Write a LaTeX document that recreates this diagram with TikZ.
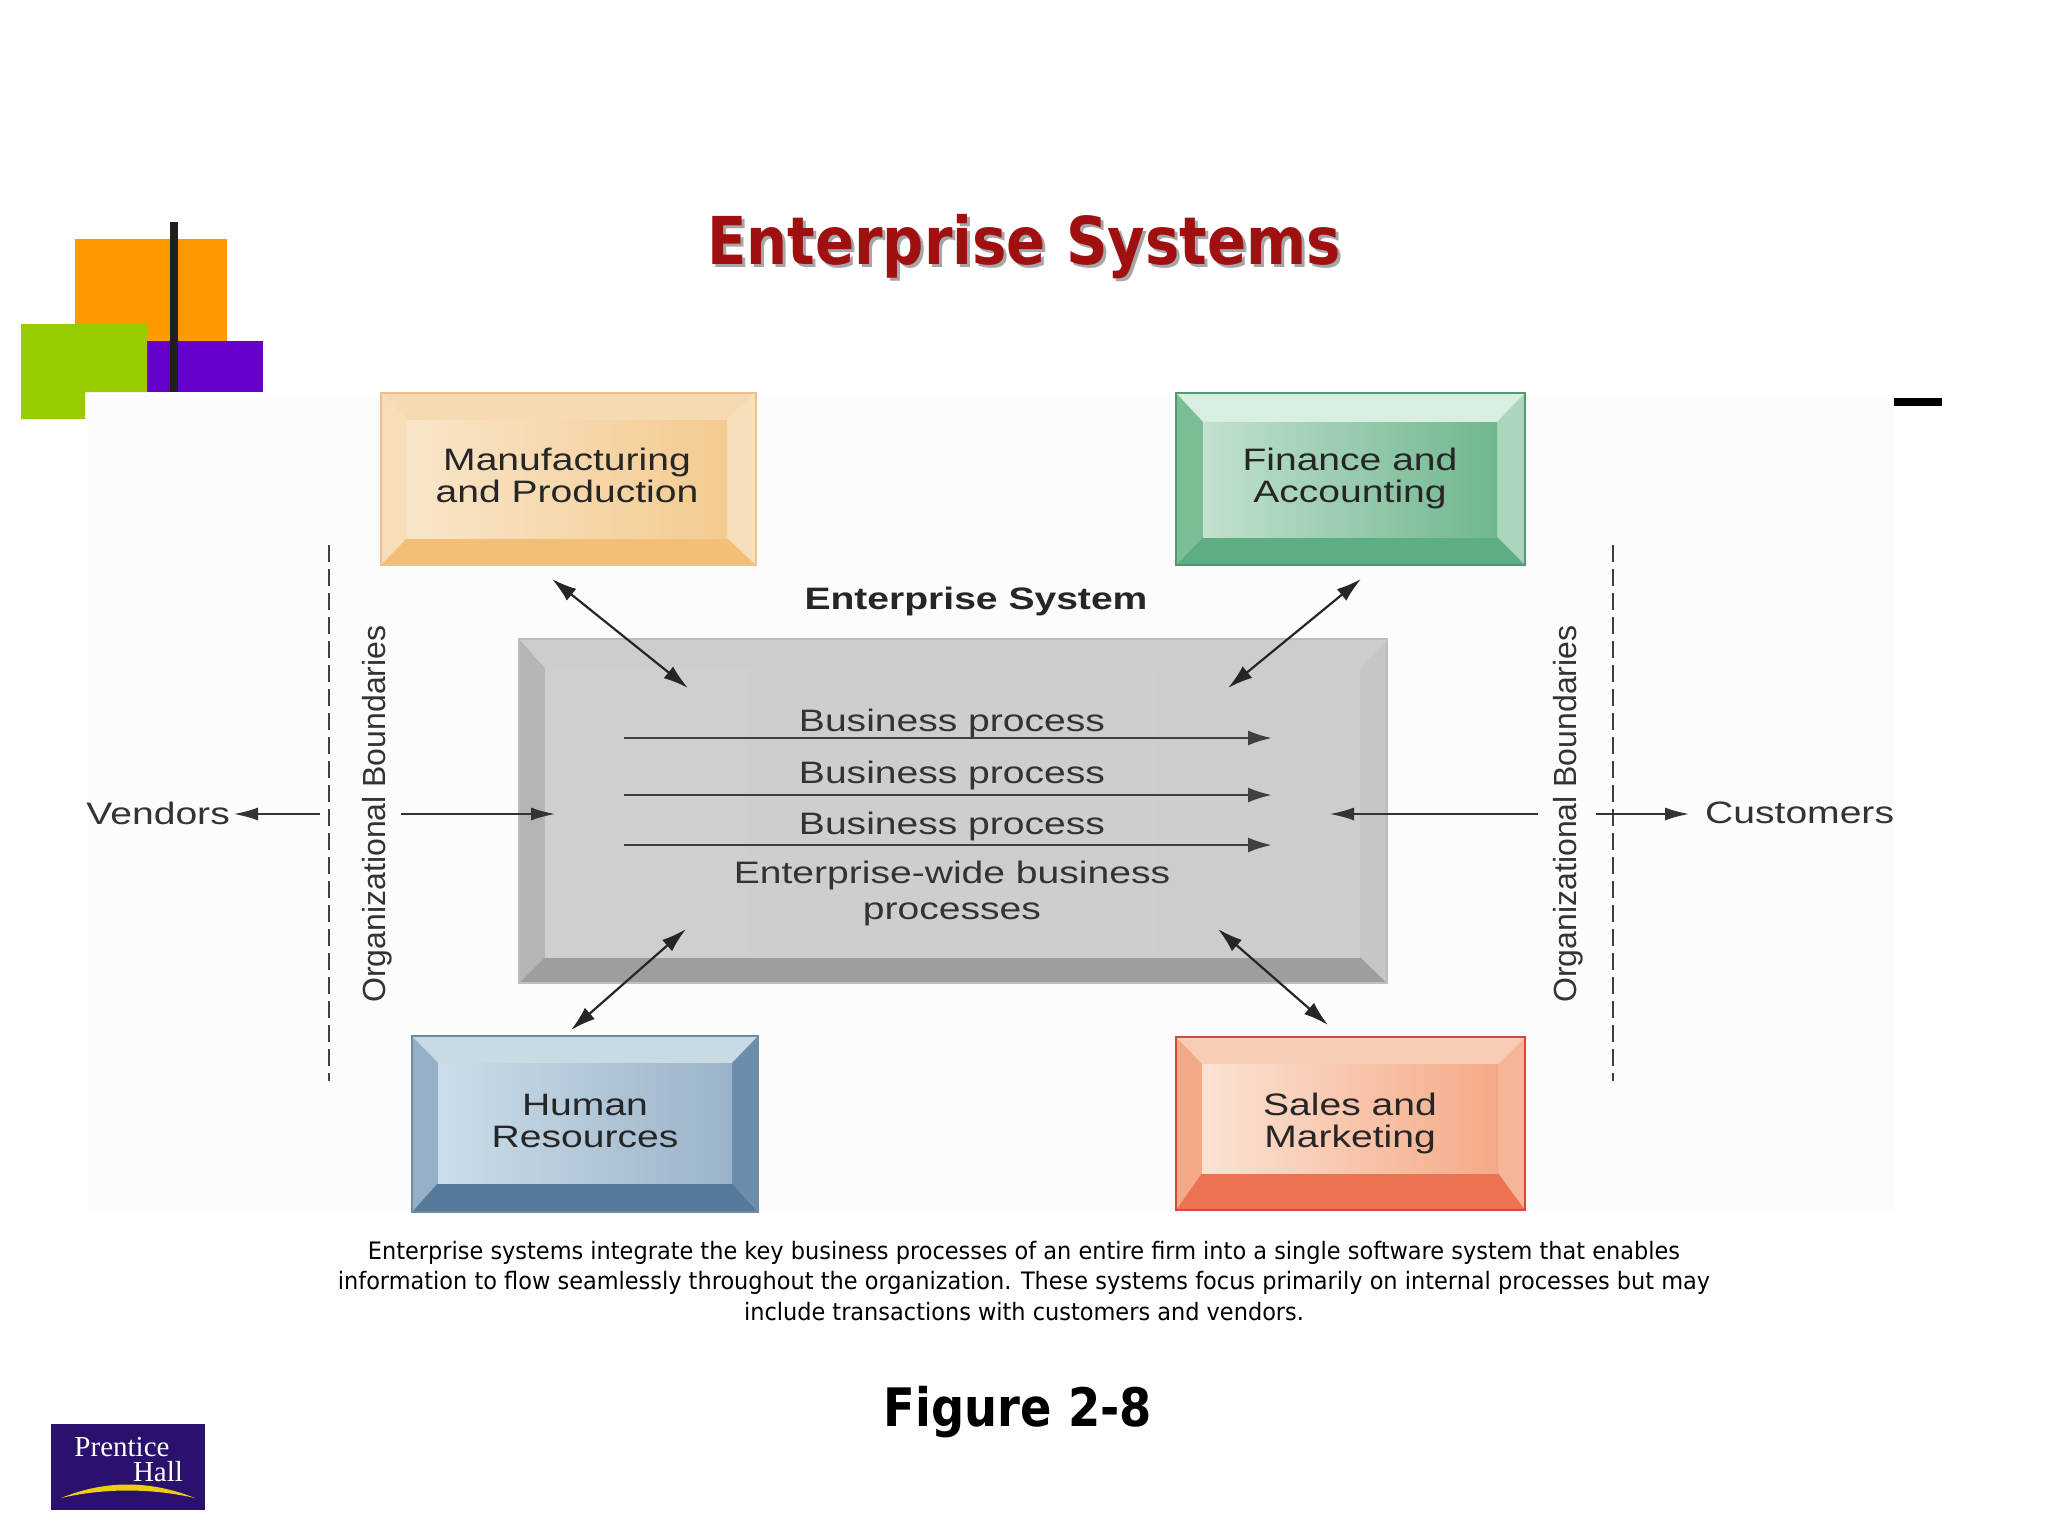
\documentclass[tikz,border=0pt]{standalone}
\usepackage{fontspec}
\setmainfont[FakeStretch=0.935]{DejaVu Sans}
\newfontfamily\headfont[FakeStretch=0.875]{DejaVu Sans}
\newfontfamily\lbl[FakeStretch=1.26]{Liberation Sans}
\newfontfamily\plainlbl{Liberation Sans}
\newfontfamily\logofont{Liberation Serif}
\usetikzlibrary{arrows.meta}
\definecolor{mpT}{HTML}{F6DBB2}\definecolor{mpL}{HTML}{F7DDB8}\definecolor{mpR}{HTML}{F8DFBC}\definecolor{mpB}{HTML}{F3BE78}\definecolor{mpA}{HTML}{F8E5C9}\definecolor{mpC}{HTML}{F4CB90}\definecolor{mpE}{HTML}{E9C28E}
\definecolor{faT}{HTML}{D8EEE0}\definecolor{faL}{HTML}{7BBE96}\definecolor{faR}{HTML}{ACD6BB}\definecolor{faB}{HTML}{5DAE82}\definecolor{faA}{HTML}{C2E1CE}\definecolor{faC}{HTML}{6FB68E}\definecolor{faE}{HTML}{4F9A70}
\definecolor{hrT}{HTML}{C9DAE5}\definecolor{hrL}{HTML}{94AFC6}\definecolor{hrR}{HTML}{6B8DAA}\definecolor{hrB}{HTML}{56789A}\definecolor{hrA}{HTML}{CBDDE9}\definecolor{hrC}{HTML}{9BB3C9}\definecolor{hrE}{HTML}{6F8CA5}
\definecolor{smT}{HTML}{F9CDB5}\definecolor{smL}{HTML}{F3A887}\definecolor{smR}{HTML}{F6B596}\definecolor{smB}{HTML}{EC7352}\definecolor{smA}{HTML}{FBE3D3}\definecolor{smC}{HTML}{F5A987}\definecolor{smE}{HTML}{D8483A}
\definecolor{esT}{HTML}{CDCCCE}\definecolor{esL}{HTML}{B5B4B6}\definecolor{esR}{HTML}{C6C5C7}\definecolor{esB}{HTML}{9E9D9F}\definecolor{esA}{HTML}{CFCED0}\definecolor{esC}{HTML}{CDCCCE}\definecolor{esE}{HTML}{BDBCBE}
\definecolor{titlered}{HTML}{A01010}
\definecolor{panel}{HTML}{FCFCFD}
\newcommand{\bevelbox}[9]{%
  \fill[#1T] (#2,#3) -- (#4,#3) -- (#8,#7) -- (#6,#7) -- cycle;
  \fill[#1L] (#2,#3) -- (#6,#7) -- (#6,#9) -- (#2,#5) -- cycle;
  \fill[#1R] (#4,#3) -- (#8,#7) -- (#8,#9) -- (#4,#5) -- cycle;
  \fill[#1B] (#2,#5) -- (#6,#9) -- (#8,#9) -- (#4,#5) -- cycle;
  \shade[left color=#1A,right color=#1C] (#6,#7) rectangle (#8,#9);
  \draw[#1E,line width=2pt] (#2,#3) rectangle (#4,#5);
}
\tikzset{
  x=1pt,y=-1pt,
  boxlabel/.style={font=\lbl\fontsize{31}{32}\selectfont,text=black!85,align=center,inner sep=0pt},
  proclabel/.style={font=\lbl\fontsize{31}{36}\selectfont,text=black!80,align=center,inner sep=0pt},
  sidelabel/.style={font=\lbl\fontsize{31}{32}\selectfont,text=black!80},
  orglabel/.style={font=\plainlbl\fontsize{32}{34}\selectfont,text=black!80,rotate=90,inner sep=0pt},
  biarrow/.style={{Latex[length=25pt,width=15pt]}-{Latex[length=25pt,width=15pt]},line width=2.2pt,draw=black!85},
  onearrow/.style={-{Latex[length=24pt,width=13pt]},line width=1.6pt,draw=black!80},
  procarrow/.style={-{Latex[length=24pt,width=15pt]},line width=2.6pt,draw=black!75},
  boundary/.style={line width=2pt,draw=black!75,dash pattern=on 17pt off 7pt},
}
\begin{document}
\begin{tikzpicture}
\useasboundingbox (0,0) rectangle (2048,1536);
\fill[white] (0,0) rectangle (2048,1536);
\fill[panel] (88,395) rectangle (1895,1212);
% corner ornament
\fill[fill={rgb,255:red,255;green,153;blue,0}] (75,239) rectangle (227,341);
\fill[fill={rgb,255:red,102;green,0;blue,204}] (147,341) rectangle (263,392);
\fill[fill={rgb,255:red,153;green,204;blue,0}] (21,324) -- (147,324) -- (147,392) -- (85,392) -- (85,419) -- (21,419) -- cycle;
\fill[black!88] (170,222) rectangle (178,392);
\fill[black] (1894,398) rectangle (1942,406);
% title
\node[font=\headfont\bfseries\fontsize{66}{66}\selectfont,text=black!35] (titleshadow) at (1027,250) {Enterprise Systems};
\node[font=\headfont\bfseries\fontsize{66}{66}\selectfont,text=titlered] (title) at (1024,247) {Enterprise Systems};
% boxes
\bevelbox{mp}{381}{393}{756}{565}{407}{420}{727}{538}
\bevelbox{fa}{1176}{393}{1525}{565}{1203}{422}{1497}{537}
\bevelbox{hr}{412}{1036}{758}{1212}{438}{1063}{732}{1183}
\bevelbox{sm}{1176}{1037}{1525}{1210}{1202}{1064}{1498}{1173}
\bevelbox{es}{519}{639}{1387}{983}{545}{668}{1360}{957}
\node[boxlabel] (mplabel) at (567,475) {Manufacturing\\and Production};
\node[boxlabel] (falabel) at (1350,478) {Finance and\\Accounting};
\node[boxlabel] (hrlabel) at (585,1121) {Human\\Resources};
\node[boxlabel] (smlabel) at (1350,1123) {Sales and\\Marketing};
\node[font=\lbl\bfseries\fontsize{31}{32}\selectfont,text=black!85,inner sep=0pt] (eslabel) at (976,601) {Enterprise System};
\node[proclabel] (bp1) at (952,723) {Business process};
\node[proclabel] (bp2) at (952,775) {Business process};
\node[proclabel] (bp3) at (952,826) {Business process};
\node[proclabel] (bpw) at (952,893) {Enterprise-wide business\\processes};
% process arrows
\coordinate (p1a) at (624,738); \coordinate (p1b) at (1272,738);
\coordinate (p2a) at (624,795); \coordinate (p2b) at (1272,795);
\coordinate (p3a) at (624,845); \coordinate (p3b) at (1272,845);
\draw[procarrow] (p1a) -- (p1b);
\draw[procarrow] (p2a) -- (p2b);
\draw[procarrow] (p3a) -- (p3b);
% diagonal arrows
\coordinate (mpend) at (552,579); \coordinate (mpin) at (688,688);
\coordinate (faend) at (1361,579); \coordinate (fain) at (1228,688);
\coordinate (hrend) at (571,1030); \coordinate (hrin) at (686,929);
\coordinate (smend) at (1328,1025); \coordinate (smin) at (1218,929);
\draw[biarrow] (mpend) -- (mpin);
\draw[biarrow] (faend) -- (fain);
\draw[biarrow] (hrend) -- (hrin);
\draw[biarrow] (smend) -- (smin);
% organizational boundaries
\coordinate (lbt) at (329,545); \coordinate (lbb) at (329,1081);
\coordinate (rbt) at (1613,545); \coordinate (rbb) at (1613,1081);
\draw[boundary] (lbt) -- (lbb);
\draw[boundary] (rbt) -- (rbb);
\node[orglabel] (orgl) at (377,814) {Organizational Boundaries};
\node[orglabel] (orgr) at (1568,814) {Organizational Boundaries};
% vendors and customers
\node[sidelabel,inner sep=4pt,anchor=east] (vendors) at (234,813) {Vendors};
\node[sidelabel,inner sep=16pt,anchor=west] (customers) at (1689,813) {Customers};
\coordinate (va) at (320,814); \coordinate (lia) at (401,814); \coordinate (lib) at (555,814);
\coordinate (ria) at (1538,814); \coordinate (rib) at (1330,814);
\coordinate (ca) at (1596,814);
\draw[onearrow] (va) -- (vendors.east |- va);
\draw[onearrow] (lia) -- (lib);
\draw[onearrow] (ria) -- (rib);
\draw[onearrow] (ca) -- (customers.west |- ca);
% caption
\node[font=\fontsize{24}{30.7}\selectfont,align=center,text=black,inner sep=0pt] (caption) at (1024,1281) {Enterprise systems integrate the key business processes of an entire firm into a single software system that enables\\information to flow seamlessly throughout the organization. These systems focus primarily on internal processes but may\\include transactions with customers and vendors.};
\node[font=\headfont\bfseries\fontsize{53}{53}\selectfont,text=black,inner sep=0pt] (figure) at (1018,1412) {Figure 2-8};
% logo
\fill[fill={rgb,255:red,43;green,17;blue,110}] (51,1424) rectangle (205,1510);
\node[font=\logofont\fontsize{29}{29}\selectfont,text=white,inner sep=0pt] (prentice) at (122,1447) {Prentice};
\node[font=\logofont\fontsize{29}{29}\selectfont,text=white,inner sep=0pt] (hall) at (158,1472) {Hall};
\fill[fill={rgb,255:red,235;green,205;blue,20}] (61,1498) .. controls (105,1480) and (150,1480) .. (195,1498) .. controls (150,1488) and (105,1488) .. (61,1498) -- cycle;
\end{tikzpicture}
\end{document}
